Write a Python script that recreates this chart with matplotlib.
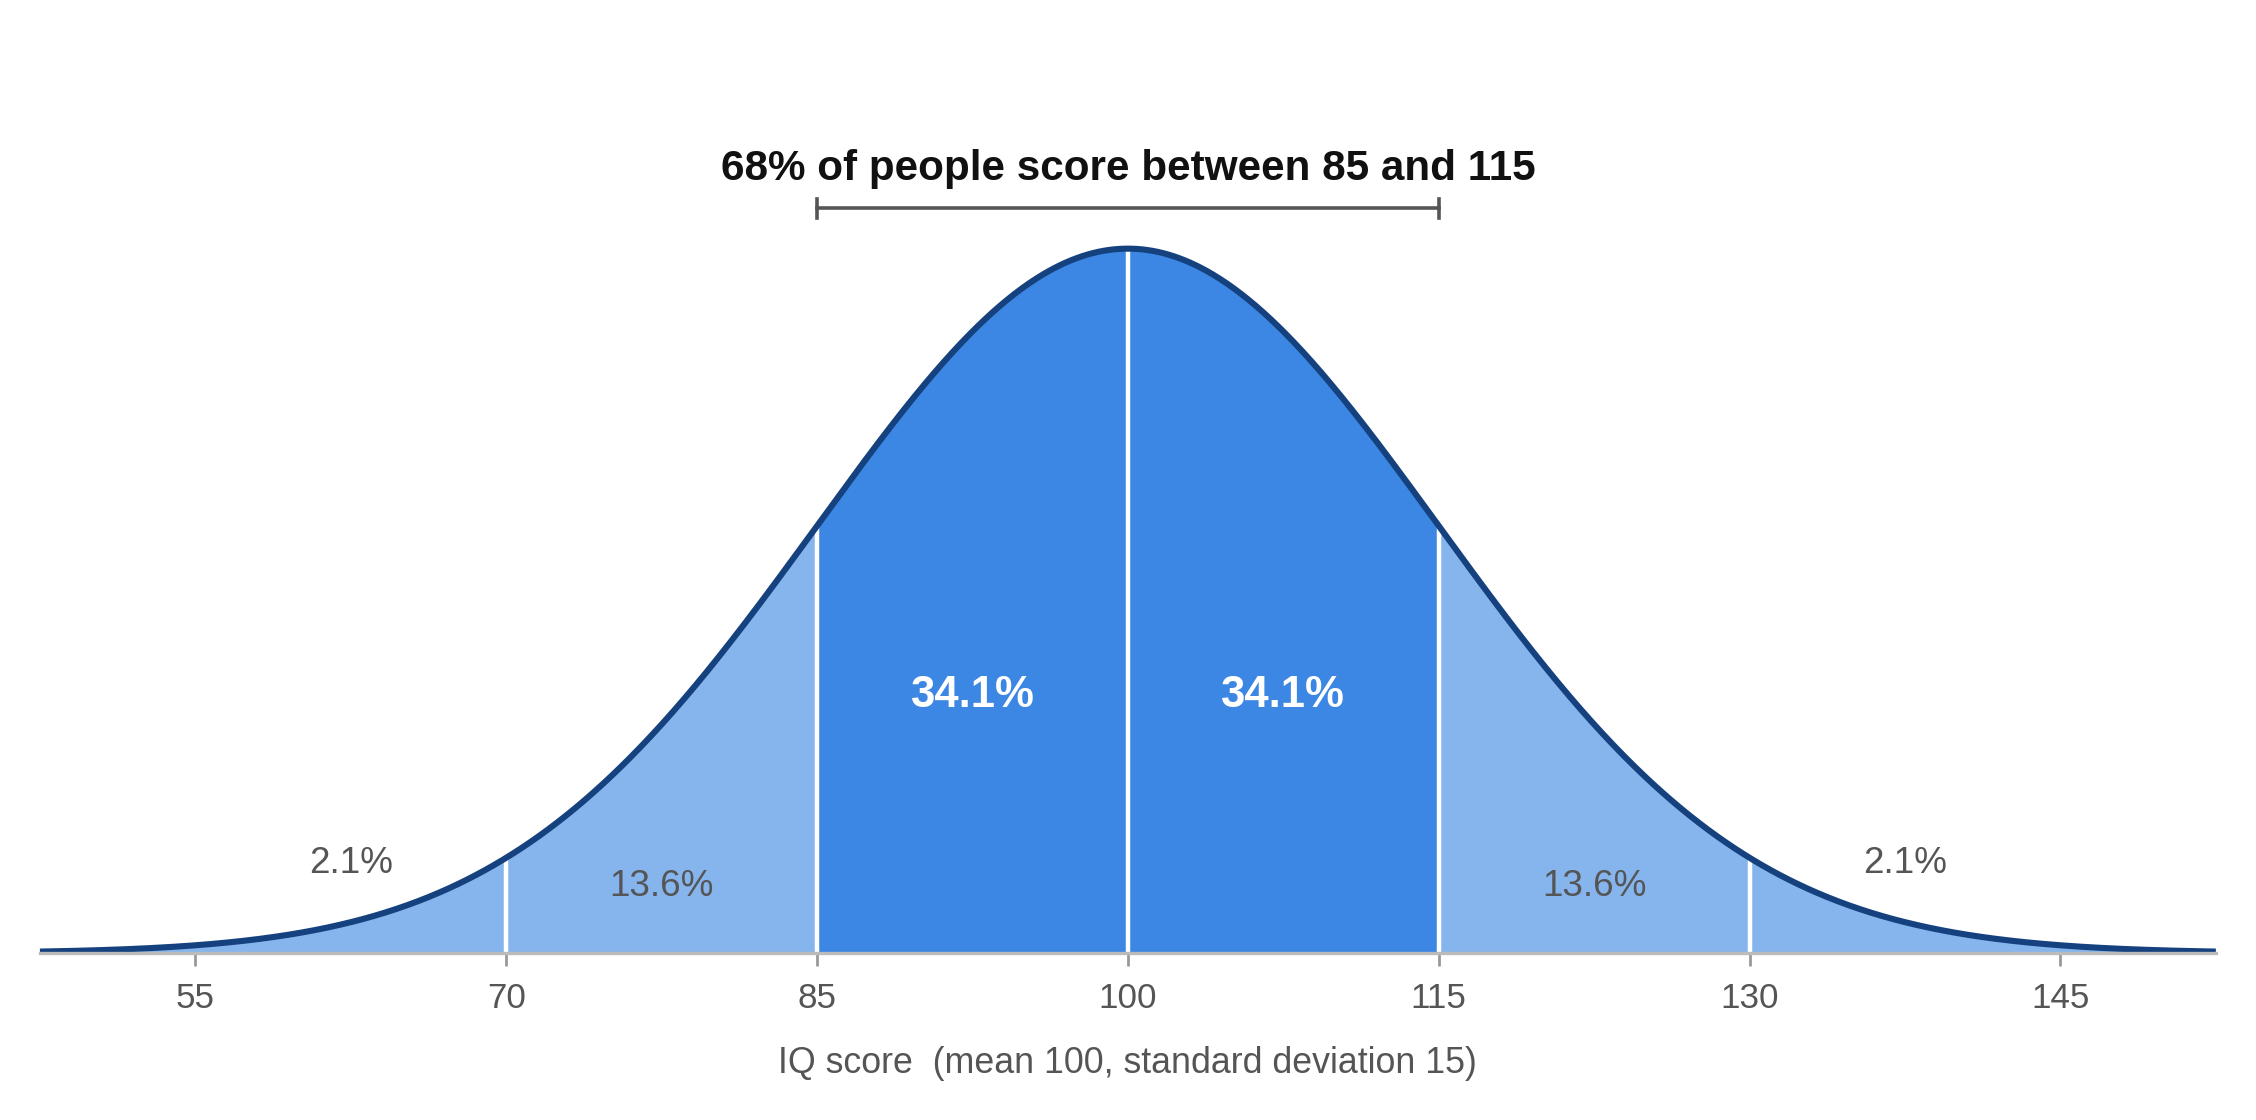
import numpy as np
import matplotlib
matplotlib.use("Agg")
import matplotlib.pyplot as plt

plt.rcParams['font.family'] = ['Liberation Sans', 'DejaVu Sans']

# distribution and bands
mean, sd = 100, 15
band_edges = [47.5, 70, 85, 100, 115, 130, 152.5]
band_labels = ["2.1%", "13.6%", "34.1%", "34.1%", "13.6%", "2.1%"]
band_label_x = [62.5, 77.5, 92.5, 107.5, 122.5, 137.5]
band_label_h = [0.127, 0.094, 0.366, 0.366, 0.094, 0.127]  # fraction of peak
tick_values = [55, 70, 85, 100, 115, 130, 145]
title_text = "68% of people score between 85 and 115"
xlabel_text = "IQ score  (mean 100, standard deviation 15)"

dark = "#3b87e3"
light = "#86b5ee"
navy = "#15427f"
grey_txt = "#555555"


def pdf(x):
    return np.exp(-0.5 * ((x - mean) / sd) ** 2) / (sd * np.sqrt(2 * np.pi))


peak = pdf(mean)

fig = plt.figure(figsize=(11.28, 5.6), dpi=200)
ax = fig.add_axes([0.0177, 0.149, 0.9645, 0.629])

x = np.linspace(band_edges[0], band_edges[-1], 1200)
for i in range(len(band_edges) - 1):
    lo, hi = band_edges[i], band_edges[i + 1]
    xs = x[(x >= lo) & (x <= hi)]
    xs = np.concatenate([[lo], xs, [hi]])
    col = dark if lo >= 85 and hi <= 115 else light
    ax.fill_between(xs, 0, pdf(xs), color=col, lw=0)

# white separators
for e in band_edges[1:-1]:
    ax.plot([e, e], [0, pdf(e)], color="white", lw=1.6, solid_capstyle="butt")

ax.plot(x, pdf(x), color=navy, lw=2.2, clip_on=False, solid_capstyle="butt")

# labels inside bands
for lx, lh, lab in zip(band_label_x, band_label_h, band_labels):
    if lab == "34.1%":
        ax.text(lx, lh * peak, lab, color="white", fontsize=15.7, fontweight="bold",
                ha="center", va="center")
    else:
        ax.text(lx, lh * peak, lab, color=grey_txt, fontsize=13.3,
                ha="center", va="center")

# bracket for 85-115
by = 1.057 * peak
cap = 0.014 * peak
ax.plot([85, 115], [by, by], color="#555555", lw=1.3, clip_on=False)
for bx in (85, 115):
    ax.plot([bx, bx], [by - cap, by + cap], color="#555555", lw=1.3, clip_on=False)
ax.text(100, 1.113 * peak, title_text, ha="center", va="center", fontsize=15.2,
        fontweight="bold", color="#111111", clip_on=False)

ax.set_xlim(band_edges[0], band_edges[-1])
ax.set_ylim(0, peak)
ax.set_xticks(tick_values)
ax.set_xticklabels([str(t) for t in tick_values])
ax.set_yticks([])
for s in ["top", "right", "left"]:
    ax.spines[s].set_visible(False)
ax.spines["bottom"].set_color("#bbbbbb")
ax.spines["bottom"].set_linewidth(1.2)
ax.tick_params(axis="x", direction="out", length=4.5, width=1.0, color="#999999",
               labelcolor=grey_txt, labelsize=12.6, pad=6)
ax.set_xlabel(xlabel_text, color=grey_txt, fontsize=12.9, labelpad=11)

fig.savefig("out.png", dpi=200, facecolor="white")
